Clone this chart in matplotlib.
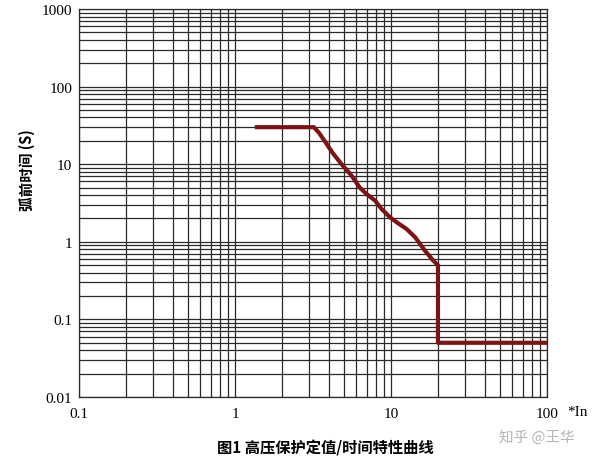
import matplotlib
matplotlib.use('Agg')
import matplotlib.pyplot as plt
from matplotlib.ticker import FixedLocator, FixedFormatter, NullFormatter, LogLocator

plt.rcParams['font.family'] = ['Liberation Serif', 'Noto Sans CJK SC', 'DejaVu Sans']

# multiple of rated current (*In) vs. pre-arcing time (s)
current = [1.38, 3.2, 3.45, 3.85, 4.2, 4.8, 5.6, 6.3, 7.0, 7.9, 8.7, 9.9,
           10.9, 12.6, 14.3, 16.5, 18.7, 20, 20, 100]
pre_arc_time = [30, 30, 25.5, 18.5, 14.2, 10.1, 7.1, 5.0, 4.1, 3.4, 2.65, 2.05,
                1.78, 1.46, 1.14, 0.77, 0.57, 0.5, 0.05, 0.05]

x_ticks = [0.1, 1, 10, 100]
x_labels = ['0.1', '1', '10', '100']
y_ticks = [0.01, 0.1, 1, 10, 100, 1000]
y_labels = ['0.01', '0.1', '1', '10', '100', '1000']

fig = plt.figure(figsize=(6, 4.64), dpi=100)
ax = fig.add_axes([79 / 600, 1 - 398 / 464, (547 - 79) / 600, (398 - 10) / 464])

ax.set_xscale('log')
ax.set_yscale('log')
ax.set_xlim(0.1, 100)
ax.set_ylim(0.01, 1000)

ax.plot(current, pre_arc_time, color='#7d1414', linewidth=3, solid_joinstyle='round')

ax.xaxis.set_major_locator(FixedLocator(x_ticks))
ax.xaxis.set_major_formatter(FixedFormatter(x_labels))
ax.yaxis.set_major_locator(FixedLocator(y_ticks))
ax.yaxis.set_major_formatter(FixedFormatter(y_labels))
ax.xaxis.set_minor_locator(LogLocator(base=10, subs=range(2, 10)))
ax.yaxis.set_minor_locator(LogLocator(base=10, subs=range(2, 10)))
ax.xaxis.set_minor_formatter(NullFormatter())
ax.yaxis.set_minor_formatter(NullFormatter())

ax.grid(True, which='both', color='#2a2a2a', linewidth=0.9)
ax.set_axisbelow(True)
ax.tick_params(which='both', length=0)
ax.tick_params(axis='x', pad=7, labelsize=11)
ax.tick_params(axis='y', pad=5, labelsize=11)
for s in ax.spines.values():
    s.set_color('#2a2a2a')
    s.set_linewidth(0.9)

fig.text(27 / 600, 1 - 170 / 464, '弧前时间 (S)', rotation=90, ha='center', va='center',
         fontsize=10.5, fontweight='bold', family=['Noto Sans CJK SC', 'DejaVu Sans'])
fig.text(578 / 600, 1 - 413 / 464, '*In', ha='center', va='center', fontsize=11)
fig.text(325 / 600, 1 - 448 / 464, '图1 高压保护定值/时间特性曲线', ha='center', va='center',
         fontsize=11, fontweight='bold', family=['Noto Sans CJK SC', 'DejaVu Sans'])
fig.text(537 / 600, 1 - 438 / 464, '知乎 @王华', ha='center', va='center',
         fontsize=10.5, color='#b5b5b5', family=['Noto Sans CJK SC', 'DejaVu Sans'])

fig.savefig('out.png', dpi=100)
